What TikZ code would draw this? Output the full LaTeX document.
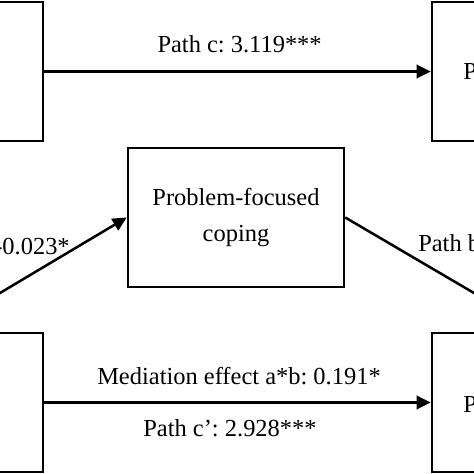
\documentclass[tikz,border=0pt]{standalone}
\usepackage{fontspec}
\setmainfont{Liberation Serif}
\usetikzlibrary{positioning, arrows.meta}
\frenchspacing

\begin{document}
\begin{tikzpicture}[
      box/.style={draw, line width=1.8pt, minimum width=5.4cm, minimum height=3.475cm, align=center, font=\fontsize{17.4pt}{25.6pt}\selectfont},
      lbl/.style={inner sep=0pt, font=\fontsize{17.4pt}{20pt}\selectfont},
      arrow/.style={-{Triangle[length=10pt, width=9.5pt]}, line width=1.8pt}
    ]
    \useasboundingbox (0,0) rectangle (11.85,11.85);
    \clip (0,0) rectangle (11.85,11.85);

    % Left column (cut off)
    \node[box] (pred) at (-1.625,10.0625) {};
    \node[box] (predb) at (-1.625,1.7875) {};

    % Right column (cut off)
    \node[box] (outc) at (13.5,10.0625) {};
    \node[box] (outb) at (13.5,1.7875) {};
    \node[lbl, anchor=west] (outcTxt) at (11.575,10.0625) {P};
    \node[lbl, anchor=west] (outbTxt) at (11.575,1.75) {P};

    % Mediator
    \node[box] (med) at (5.9,6.4125) {Problem-focused\\coping};

    % Total effect
    \draw[arrow] (pred.east) -- (outc.west);
    \node[lbl, anchor=base] (cLbl) at (5.99,10.55) {Path c: 3.119***};

    % Indirect paths
    \draw[arrow] (predb.north) -- (med.west);
    \draw[arrow] (med.east) -- (outb.north);
    \node[lbl, anchor=base east] (aLbl) at (1.75,5.5) {-0.023*};
    \node[lbl, anchor=base west] (bLbl) at (10.45,5.55) {Path b};

    % Direct effect
    \draw[arrow] (predb.east) -- (outb.west);
    \node[lbl, anchor=base] (abLbl) at (5.975,2.25) {Mediation effect a*b: 0.191*};
    \node[lbl, anchor=base] (cpLbl) at (5.75,0.925) {Path c’: 2.928***};

  \end{tikzpicture}
\end{document}
